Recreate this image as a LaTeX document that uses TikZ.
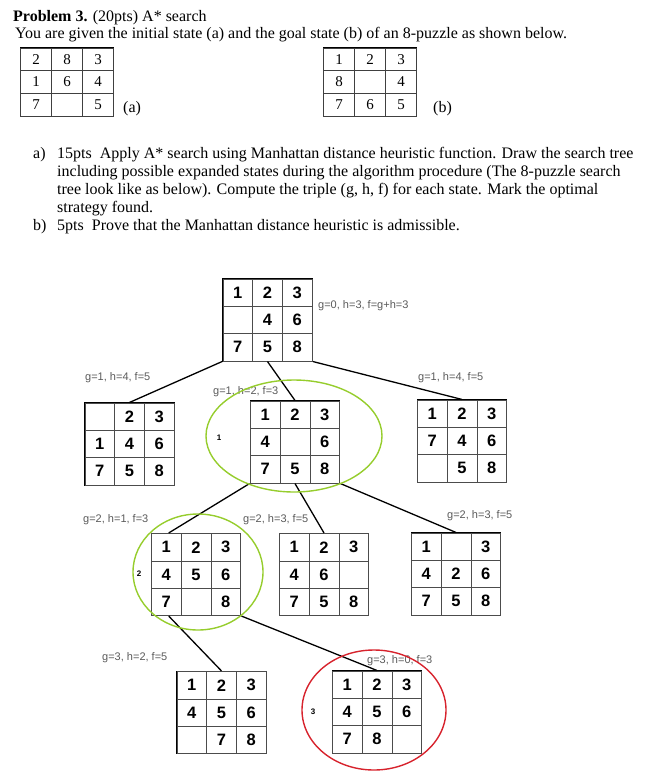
\documentclass[tikz,border=0pt]{standalone}
\usepackage{fontspec}
\setmainfont{Liberation Serif}
\setsansfont{Liberation Sans}
\usetikzlibrary{matrix, positioning, calc}
\definecolor{labelgray}{RGB}{90,90,90}
\definecolor{pathgreen}{RGB}{150,205,45}
\definecolor{goalred}{RGB}{215,35,45}

\begin{document}
\begin{tikzpicture}[x=1pt, y=-1pt,
  txt/.style={anchor=base west, inner sep=0pt, font=\fontsize{16}{18}\selectfont},
  board/.style={matrix of nodes, inner sep=0pt, draw=black, line width=0.8pt,
                column sep=-0.5pt, row sep=-0.5pt,
                nodes in empty cells,
                nodes={anchor=center, draw=black!75, line width=0.5pt, minimum width=31pt, minimum height=22.7pt,
                       inner sep=0pt, font=\fontsize{15}{15}\selectfont}},
  tiles/.style={matrix of nodes, inner sep=0pt, draw=black, line width=1pt,
                column sep=-0.5pt, row sep=-0.5pt,
                nodes in empty cells,
                nodes={anchor=center, draw=black!70, line width=0.5pt, minimum width=29.8pt, minimum height=27.2pt,
                       inner sep=0pt, font=\sffamily\bfseries\fontsize{16.5}{16.5}\selectfont}},
  cost/.style={anchor=west, inner sep=0pt, text=labelgray, font=\sffamily\fontsize{11}{12}\selectfont},
  stepno/.style={inner sep=0pt, font=\sffamily\bfseries\fontsize{8}{8}\selectfont},
  edge/.style={line width=1.3pt, black},
  pathmark/.style={line width=1.4pt, draw=pathgreen},
  goalmark/.style={line width=1.4pt, draw=goalred}
]
  \useasboundingbox (0,0) rectangle (647,777);

  % problem statement
  \node[txt] (title) at (13,21) {\textbf{Problem 3.} (20pts) A* search};
  \node[txt] (given) at (15,38) {You are given the initial state (a) and the goal state (b) of an 8-puzzle as shown below.};

  \matrix[board] (start) at (67,82) {2 & 8 & 3\\ 1 & 6 & 4\\ 7 & & 5\\};
  \node[txt] (lbla) at (123,112) {(a)};
  \matrix[board] (goal) at (370,82) {1 & 2 & 3\\ 8 & & 4\\ 7 & 6 & 5\\};
  \node[txt] (lblb) at (433,112) {(b)};

  \node[txt] (qa) at (33,158) {a)};
  \node[txt] (qa1) at (57,158) {15pts\ \ Apply A* search using Manhattan distance heuristic function. Draw the search tree};
  \node[txt] (qa2) at (57,176) {including possible expanded states during the algorithm procedure (The 8-puzzle search};
  \node[txt] (qa3) at (57,194) {tree look like as below). Compute the triple (g, h, f) for each state. Mark the optimal};
  \node[txt] (qa4) at (57,212) {strategy found.};
  \node[txt] (qb) at (33,230) {b)};
  \node[txt] (qb1) at (57,230) {5pts\ \ Prove that the Manhattan distance heuristic is admissible.};

  % search tree
  \matrix[tiles] (root) at (267.5,320) {1 & 2 & 3\\ & 4 & 6\\ 7 & 5 & 8\\};
  \matrix[tiles] (up) at (129.5,444) { & 2 & 3\\ 1 & 4 & 6\\ 7 & 5 & 8\\};
  \matrix[tiles] (right) at (295,442) {1 & 2 & 3\\ 4 & & 6\\ 7 & 5 & 8\\};
  \matrix[tiles] (down) at (462,441) {1 & 2 & 3\\ 7 & 4 & 6\\ & 5 & 8\\};
  \matrix[tiles] (rdown) at (196,574.5) {1 & 2 & 3\\ 4 & 5 & 6\\ 7 & & 8\\};
  \matrix[tiles] (rright) at (324,574.5) {1 & 2 & 3\\ 4 & 6 & \\ 7 & 5 & 8\\};
  \matrix[tiles] (rup) at (456,574) {1 & & 3\\ 4 & 2 & 6\\ 7 & 5 & 8\\};
  \matrix[tiles] (rdleft) at (221.5,712.5) {1 & 2 & 3\\ 4 & 5 & 6\\ & 7 & 8\\};
  \matrix[tiles] (rdright) at (377,712) {1 & 2 & 3\\ 4 & 5 & 6\\ 7 & 8 & \\};

  \node[cost] (croot) at (318,306) {g=0, h=3, f=g+h=3};
  \node[cost] (cup) at (85,378) {g=1, h=4, f=5};
  \node[cost] (cright) at (213,392) {g=1, h=2, f=3};
  \node[cost] (cdown) at (418,378) {g=1, h=4, f=5};
  \node[cost] (crdown) at (83,520) {g=2, h=1, f=3};
  \node[cost] (crright) at (243,520) {g=2, h=3, f=5};
  \node[cost] (crup) at (447,516) {g=2, h=3, f=5};
  \node[cost] (crdleft) at (102,658) {g=3, h=2, f=5};
  \node[cost] (crdright) at (367,661) {g=3, h=0, f=3};

  \draw[edge] (root.south west) -- (up.north);
  \draw[edge] (root.south) -- (right.north);
  \draw[edge] (root.south east) -- (down.north);
  \draw[edge] (right.south west) -- ($(rdown.north west)!0.2!(rdown.north east)$);
  \draw[edge] (right.south) -- (rright.north);
  \draw[edge] (right.south east) -- (rup.north);
  \draw[edge] ($(rdown.south west)!0.2!(rdown.south east)$) -- (rdleft.north);
  \draw[edge] (rdown.south east) -- (rdright.north);

  % optimal path marks
  \draw[pathmark] (294,436) ellipse [x radius=88, y radius=56];
  \draw[pathmark] (198,572) ellipse [x radius=65, y radius=58];
  \draw[goalmark] (374,710) ellipse [x radius=72, y radius=60];
  \node[stepno] (s1) at (219,438) {1};
  \node[stepno] (s2) at (139,574) {2};
  \node[stepno] (s3) at (313,712) {3};
\end{tikzpicture}
\end{document}
